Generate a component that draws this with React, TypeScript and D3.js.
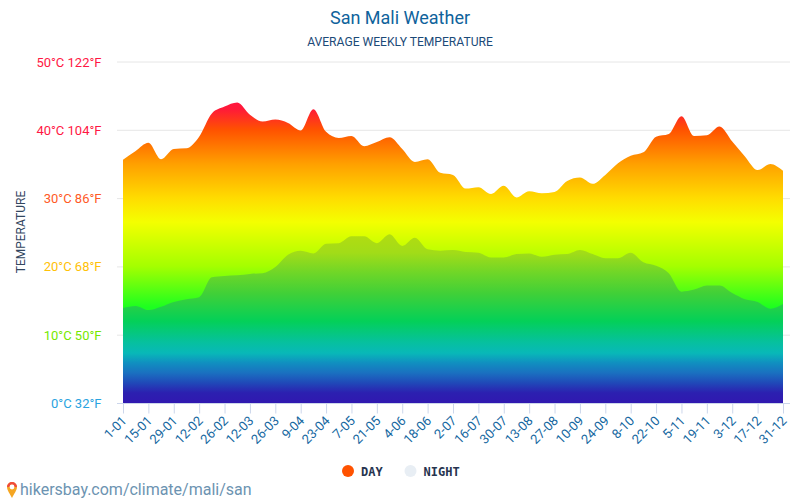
import React, { useEffect, useRef } from 'react';
import * as d3 from 'd3';

// one reading per week
const dayTemps = [
    35.6, 36.9, 38.1, 35.7, 37.2, 37.3, 39.0, 42.4, 43.4, 44.0, 42.2, 41.2, 41.5, 41.0, 39.9, 43.0, 39.7, 38.8,
    39.1, 37.6, 38.2, 38.9, 37.2, 35.3, 35.7, 33.7, 33.4, 31.4, 31.6, 30.6, 31.8, 30.1, 31.0, 30.7, 30.9, 32.5,
    33.0, 32.1, 33.4, 35.1, 36.2, 36.7, 39.0, 39.4, 42.0, 39.1, 39.2, 40.5, 38.3, 36.1, 34.1, 35.0, 34.0
];
const nightTemps = [
    13.9, 14.2, 13.6, 14.1, 14.8, 15.2, 15.5, 18.4, 18.6, 18.7, 18.9, 19.0, 19.9, 21.7, 22.3, 21.9, 23.3, 23.4,
    24.4, 24.4, 23.4, 24.7, 23.0, 24.2, 22.5, 22.3, 22.4, 22.1, 22.0, 21.3, 21.3, 21.8, 21.9, 21.4, 21.7, 21.8,
    22.4, 21.8, 21.2, 21.2, 22.0, 20.6, 20.1, 19.0, 16.3, 16.6, 17.2, 17.2, 16.1, 15.2, 14.8, 13.8, 14.5
];
const weekLabels = [
    '1-01', '15-01', '29-01', '12-02', '26-02', '12-03', '26-03', '9-04', '23-04', '7-05', '21-05', '4-06', '18-06', '2-07',
    '16-07', '30-07', '13-08', '27-08', '10-09', '24-09', '8-10', '22-10', '5-11', '19-11', '3-12', '17-12', '31-12'
];
const yTicks = [0, 10, 20, 30, 40, 50];
const yTickLabels = ['0°C 32°F', '10°C 50°F', '20°C 68°F', '30°C 86°F', '40°C 104°F', '50°C 122°F'];
const yTickColors = ['#29a3e0', '#76e800', '#ffc107', '#ff5a26', '#ff1744', '#ff1744'];

// [temperature, colour]
const dayStops: [number, string][] = [
    [45, '#ff1244'], [43, '#ff1a38'], [40, '#ff5200'], [35, '#ffa000'], [30, '#ffdc00'], [26.5, '#f4ff00'], [20, '#a4ff00'], [14, '#1cff20'], [0, '#1cff20']
];
const nightStops: [number, string][] = [
    [25, '#b4dc10'], [22, '#a2dc18'], [19, '#6ed628'], [16, '#40d038'], [12, '#04d058'], [8.8, '#06c0a0'], [7.3, '#08b8b8'],
    [5.9, '#1090c0'], [4.4, '#1a70c0'], [2.9, '#2048b8'], [1.5, '#2c20b0'], [0, '#3018b0']
];

const App: React.FC = () => {
    const svgRef = useRef<SVGSVGElement>(null);

    useEffect(() => {
        if (!svgRef.current) return;

        const svg = d3.select(svgRef.current);
        svg.selectAll('*').remove();

        const font = 'Roboto, sans-serif';
        const x = d3.scaleLinear().domain([0, dayTemps.length - 1]).range([123, 783]);
        const y = d3.scaleLinear().domain([0, 50]).range([403, 61.5]);

        // gradients run in chart coordinates so colour follows temperature
        const defs = svg.append('defs');
        const addGradient = (id: string, stops: [number, string][]) => {
            const grad = defs.append('linearGradient')
                .attr('id', id)
                .attr('gradientUnits', 'userSpaceOnUse')
                .attr('x1', 0).attr('x2', 0)
                .attr('y1', y(stops[0][0]))
                .attr('y2', y(0));
            const span = y(0) - y(stops[0][0]);
            stops.forEach(([t, color]) => {
                grad.append('stop')
                    .attr('offset', (y(t) - y(stops[0][0])) / span)
                    .attr('stop-color', color);
            });
        };
        addGradient('dayFill', dayStops);
        addGradient('nightFill', nightStops);

        // grid
        svg.append('g')
            .attr('transform', 'translate(123,0)')
            .call(d3.axisLeft(y).tickValues(yTicks).tickSize(6).tickFormat(() => ''))
            .call(g => g.select('.domain').remove())
            .call(g => g.selectAll('.tick line').attr('stroke', '#e6e6e6'));
        svg.selectAll('.grid')
            .data(yTicks.slice(1))
            .enter().append('line')
            .attr('class', 'grid')
            .attr('x1', 123)
            .attr('x2', 790)
            .attr('y1', d => y(d) + 0.5)
            .attr('y2', d => y(d) + 0.5)
            .attr('stroke', '#e6e6e6');

        yTicks.forEach((t, i) => {
            svg.append('text')
                .attr('x', 101.5)
                .attr('y', y(t) + 5)
                .attr('text-anchor', 'end')
                .attr('font-family', font)
                .attr('font-size', '13px')
                .attr('fill', yTickColors[i])
                .text(yTickLabels[i]);
        });

        // areas
        const area = d3.area<number>()
            .x((_, i) => x(i))
            .y0(y(0))
            .y1(d => y(d))
            .curve(d3.curveMonotoneX);

        svg.append('path').attr('d', area(dayTemps)).attr('fill', 'url(#dayFill)');
        svg.append('path').attr('d', area(nightTemps)).attr('fill', 'url(#nightFill)');

        // x axis, one label every second week
        const xAxis = svg.append('g')
            .attr('transform', 'translate(0,403.5)')
            .call(
                d3.axisBottom(x)
                    .tickValues(weekLabels.map((_, i) => i * 2))
                    .tickSize(10)
                    .tickFormat((_, i) => weekLabels[i])
            );
        xAxis.select('.domain').remove();
        xAxis.selectAll('.tick line').attr('stroke', '#ccd6eb');
        xAxis.selectAll('.tick text')
            .attr('font-family', font)
            .attr('font-size', '13px')
            .attr('fill', '#14679f')
            .attr('text-anchor', 'end')
            .attr('dy', null)
            .attr('x', 4)
            .attr('y', 18)
            .attr('transform', 'rotate(-45 4 18)');
        svg.append('line')
            .attr('x1', 117).attr('x2', 790)
            .attr('y1', 403.5).attr('y2', 403.5)
            .attr('stroke', '#ccd6eb');

        // titles
        svg.append('text')
            .attr('x', 400).attr('y', 24)
            .attr('text-anchor', 'middle')
            .attr('font-family', font)
            .attr('font-size', '18px')
            .attr('fill', '#0f639c')
            .text('San Mali Weather');
        svg.append('text')
            .attr('x', 400).attr('y', 46)
            .attr('text-anchor', 'middle')
            .attr('font-family', font)
            .attr('font-size', '12.1px')
            .attr('fill', '#1b4a78')
            .text('AVERAGE WEEKLY TEMPERATURE');
        svg.append('text')
            .attr('transform', 'translate(25,232) rotate(-90)')
            .attr('text-anchor', 'middle')
            .attr('font-family', font)
            .attr('font-size', '12px')
            .attr('fill', '#33475f')
            .text('TEMPERATURE');

        // legend
        const legend = [
            { label: 'DAY', color: '#ff5200', cx: 348 },
            { label: 'NIGHT', color: '#e8eef4', cx: 410.5 }
        ];
        legend.forEach(item => {
            svg.append('circle')
                .attr('cx', item.cx).attr('cy', 471)
                .attr('r', 6)
                .attr('fill', item.color);
            svg.append('text')
                .attr('x', item.cx + 13).attr('y', 475.5)
                .attr('font-family', '"DejaVu Sans Mono", monospace')
                .attr('font-weight', 'bold')
                .attr('font-size', '12px')
                .attr('fill', '#26344f')
                .text(item.label);
        });

        // footer with pin
        const pin = svg.append('g').attr('transform', 'translate(12,487)');
        pin.append('path')
            .attr('d', 'M0,11 C-2,7 -5,3 -5,0 A5,5 0 1 1 5,0 C5,3 2,7 0,11 Z')
            .attr('fill', '#f5a623');
        pin.append('path')
            .attr('d', 'M-5,0 A5,5 0 0 1 5,0 L2.4,0 A2.4,2.4 0 0 0 -2.4,0 Z')
            .attr('fill', '#ef4b3c');
        pin.append('circle').attr('r', 2.4).attr('fill', 'white');
        svg.append('text')
            .attr('x', 20).attr('y', 495)
            .attr('font-family', font)
            .attr('font-size', '16px')
            .attr('fill', '#6c93b1')
            .text('hikersbay.com/climate/mali/san');
    }, []);

    return <svg ref={svgRef} width={800} height={500} style={{ position: 'absolute', left: 0, top: 0 }}></svg>;
};

export default App;
